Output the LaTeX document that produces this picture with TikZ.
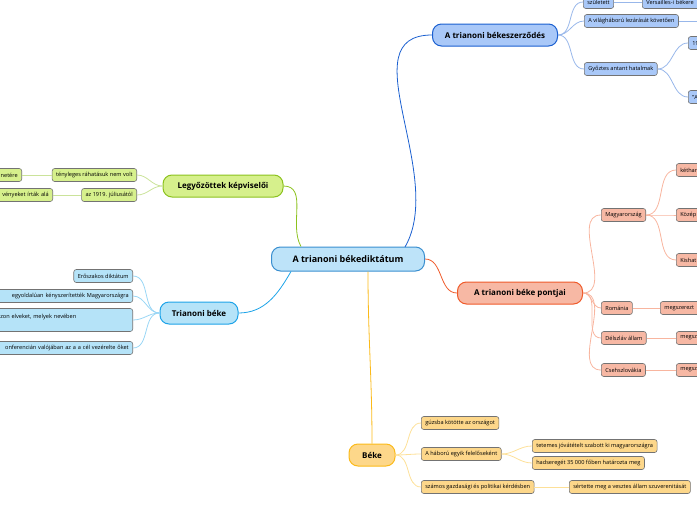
\documentclass[tikz,border=0pt]{standalone}
\usepackage{fontspec}
\setmainfont{Open Sans}
\usetikzlibrary{positioning}
\definecolor{cen}{HTML}{BDE3F9}
\definecolor{cenl}{HTML}{3A8FD0}
\definecolor{bl}{HTML}{A9C8F8}
\definecolor{bll}{HTML}{1A5FD0}
\definecolor{gn}{HTML}{D6F08C}
\definecolor{gnl}{HTML}{8CC21E}
\definecolor{cy}{HTML}{B5E3F8}
\definecolor{cyl}{HTML}{1DA3E8}
\definecolor{sa}{HTML}{F7B8A4}
\definecolor{sal}{HTML}{EF5A2A}
\definecolor{ye}{HTML}{FDD78A}
\definecolor{yel}{HTML}{FBBA1A}

\begin{document}
\begin{tikzpicture}[
    x = 1pt, y = -1pt,
    main/.style = {draw, line width=1pt, rounded corners=9pt, minimum height=22pt,
      inner xsep=10pt, font=\fontsize{8}{9}\selectfont\bfseries},
    leaf/.style = {draw = black!55, line width=0.6pt, rounded corners=2.5pt,
      minimum height=13pt, inner xsep=4pt, font=\fontsize{5.6}{6.5}\selectfont},
    link/.style = {line width=0.8pt},
  ]
  \useasboundingbox (0,0) rectangle (697,520);

  % centre
  \node[main, fill = cen, draw = cenl, minimum height=24pt, minimum width=153pt,
    font=\fontsize{9}{10}\selectfont\bfseries] (root) at (348,259) {A trianoni békediktátum};

  % main topics
  \node[main, fill = bl, draw = bll, minimum width=125pt] (szerz) at (495,35) {A trianoni békeszerződés};
  \node[main, fill = gn, draw = gnl, minimum width=120pt] (legy) at (223,186) {Legyőzöttek képviselői};
  \node[main, fill = cy, draw = cyl, minimum width=78pt] (tri) at (199,313) {Trianoni béke};
  \node[main, fill = sa, draw = sal, minimum width=125pt] (pont) at (520,293) {A trianoni béke pontjai};
  \node[main, fill = ye, draw = yel, minimum width=46pt] (beke) at (372,455) {Béke};

  \draw[link, bll] (root.east) ++(-20,-12) to[out=60,in=180] (szerz.west);
  \draw[link, gnl] (root.north west) ++(30,0) to[out=120,in=0] (legy.east);
  \draw[link, cyl] (root.south west) ++(20,0) to[out=-120,in=0] (tri.east);
  \draw[link, sal] (root.east) to[out=0,in=180] (pont.west);
  \draw[link, yel] (root.south) ++(20,0) to[out=-90,in=90] (beke.north);

  % A trianoni bekeszerzodes
  \begin{scope}[every node/.style={leaf, fill = bl}]
    \node[anchor=west] (sz1) at (583,2) {született};
    \node[anchor=west, minimum width=60pt, text width=52pt] (sz1a) at (642,2) {Versailles-i békere};
    \node[anchor=west] (sz2) at (584,21) {A világháború lezárását követően};
    \node[anchor=west] (sz3) at (584,69) {Győztes antant hatalmak};
    \node[anchor=west, minimum width=40pt, text width=32pt] (sz3a) at (688,43) {19};
    \node[anchor=west, minimum width=40pt, text width=32pt] (sz3b) at (688,97) {"A};
    \coordinate (sz2e) at (697,21);
  \end{scope}
  \foreach \c in {sz1, sz2, sz3}
    \draw[link, bll!45] (szerz.east) to[out=0,in=180] (\c.west);
  \draw[link, bll!45] (sz1.east) -- (sz1a.west);
  \draw[link, bll!45] (sz2.east) -- (sz2e);
  \foreach \c in {sz3a, sz3b}
    \draw[link, bll!45] (sz3.east) to[out=0,in=180] (\c.west);

  % Legyozottek kepviseloi
  \begin{scope}[every node/.style={leaf, fill = gn}]
    \node[anchor=east] (lg1) at (137,175) {tényleges ráhatásuk nem volt};
    \node[anchor=east] (lg2) at (137,195) {az 1919. júliusától};
    \node[anchor=east, text width=40pt, align=right] (lg1a) at (22,175) {netére};
    \node[anchor=east, text width=70pt, align=right] (lg2a) at (53,195) {vényeket írták alá};
  \end{scope}
  \foreach \c in {lg1, lg2}
    \draw[link, gnl!45] (legy.west) to[out=180,in=0] (\c.east);
  \draw[link, gnl!45] (lg1.west) -- (lg1a.east);
  \draw[link, gnl!45] (lg2.west) -- (lg2a.east);

  % Trianoni beke
  \begin{scope}[every node/.style={leaf, fill = cy}]
    \node[anchor=east] (tr1) at (133,276) {Erőszakos diktátum};
    \node[anchor=east, text width=150pt, align=right] (tr2) at (133,296) {egyoldalúan kényszerítették Magyarországra};
    \node[anchor=east, minimum height=23pt, text width=150pt, align=left] (tr3) at (133,320) {a mindazon elveket, melyek nevében\\\mbox{}};
    \node[anchor=east, text width=150pt, align=right] (tr4) at (133,348) {onferencián valójában az a a cél vezérelte őket};
  \end{scope}
  \foreach \c in {tr1, tr2, tr3, tr4}
    \draw[link, cyl!45] (tri.west) to[out=180,in=0] (\c.east);

  % A trianoni beke pontjai
  \begin{scope}[every node/.style={leaf, fill = sa}]
    \node[anchor=west] (pt1) at (601,215) {Magyarország};
    \node[anchor=west] (pt2) at (601,308) {Románia};
    \node[anchor=west] (pt3) at (601,338) {Délszláv állam};
    \node[anchor=west] (pt4) at (601,370) {Csehszlovákia};
    \node[anchor=west, minimum width=40pt, text width=32pt] (pt1a) at (676,170) {kéthar};
    \node[anchor=west, minimum width=40pt, text width=32pt] (pt1b) at (676,215) {Közép};
    \node[anchor=west, minimum width=40pt, text width=32pt] (pt1c) at (676,260) {Kishat};
    \node[anchor=west, minimum width=50pt, text width=42pt] (pt2a) at (660,308) {megszerezt};
    \node[anchor=west, minimum width=40pt, text width=32pt] (pt3a) at (676,338) {megsz};
    \node[anchor=west, minimum width=40pt, text width=32pt] (pt4a) at (676,370) {megsz};
  \end{scope}
  \foreach \c in {pt1, pt2, pt3, pt4}
    \draw[link, sal!45] (pont.east) to[out=0,in=180] (\c.west);
  \foreach \c in {pt1a, pt1b, pt1c}
    \draw[link, sal!45] (pt1.east) to[out=0,in=180] (\c.west);
  \draw[link, sal!45] (pt2.east) -- (pt2a.west);
  \draw[link, sal!45] (pt3.east) -- (pt3a.west);
  \draw[link, sal!45] (pt4.east) -- (pt4a.west);

  % Beke
  \begin{scope}[every node/.style={leaf, fill = ye}]
    \node[anchor=west] (bk1) at (421,423) {gúzsba kötötte az országot};
    \node[anchor=west] (bk2) at (421,454) {A háború egyik felelőseként};
    \node[anchor=west] (bk3) at (421,487) {számos gazdasági és politikai kérdésben};
    \node[anchor=west] (bk2a) at (532,446) {tetemes jóvátételt szabott ki magyarországra};
    \node[anchor=west] (bk2b) at (532,463) {hadseregét 35 000 főben határozta meg};
    \node[anchor=west] (bk3a) at (569,487) {sértette meg a vesztes állam szuverenitását};
  \end{scope}
  \foreach \c in {bk1, bk2, bk3}
    \draw[link, yel!45] (beke.east) to[out=0,in=180] (\c.west);
  \foreach \c in {bk2a, bk2b}
    \draw[link, yel!45] (bk2.east) to[out=0,in=180] (\c.west);
  \draw[link, yel!45] (bk3.east) -- (bk3a.west);
\end{tikzpicture}
\end{document}
